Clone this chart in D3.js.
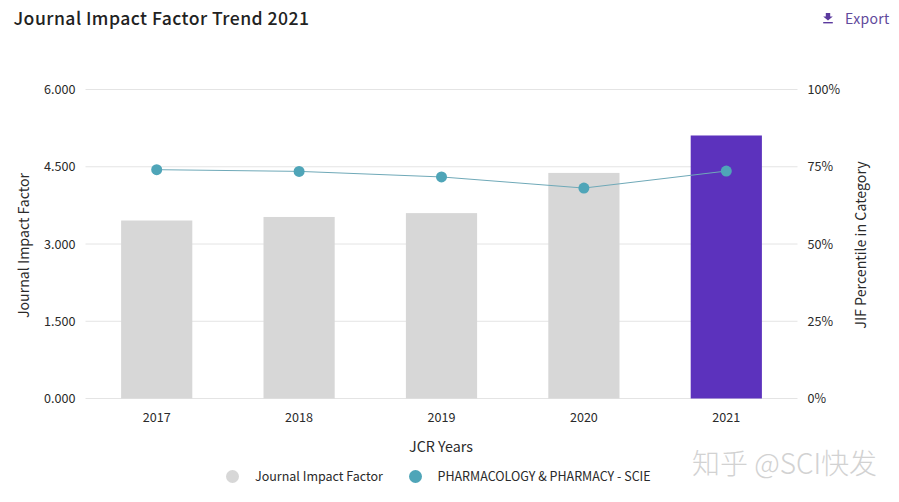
<!DOCTYPE html>
<html>
<head>
<meta charset="utf-8">
<script src="https://cdnjs.cloudflare.com/ajax/libs/d3/7.8.5/d3.min.js"></script>
<style>
html,body{margin:0;padding:0;background:#fff;}
svg{display:block;}
text{font-family:"Noto Sans CJK SC","Noto Sans",sans-serif;}
</style>
</head>
<body>
<svg id="c" width="899" height="502"></svg>
<script>
const years = ["2017","2018","2019","2020","2021"];
const jif = [3.456, 3.525, 3.600, 4.380, 5.107];
const percentile = [74.05, 73.5, 71.7, 68.1, 73.6];
const leftTicks = [0, 1.5, 3, 4.5, 6];
const rightTicks = [0, 25, 50, 75, 100];
const titleText = "Journal Impact Factor Trend 2021";
const legendLabels = ["Journal Impact Factor", "PHARMACOLOGY & PHARMACY - SCIE"];

const svg = d3.select("#c");
const x = d3.scaleBand().domain(years).range([85.5, 797.5]).paddingInner(0.5).paddingOuter(0.25);
const y = d3.scaleLinear().domain([0, 6]).range([398.5, 89.5]);
const yr = d3.scaleLinear().domain([0, 100]).range([398.5, 89.5]);
const cx = d => x(d) + x.bandwidth() / 2;
const ink = "#2a2a2a";

svg.append("text").attr("x", 13.5).attr("y", 24.5).attr("font-size", 17.6).attr("font-weight", 500)
  .attr("letter-spacing", 0.45).attr("fill", "#222").text(titleText);

// Export
const ex = svg.append("g").attr("transform", "translate(828,18)").attr("fill", "#5b3a9e");
ex.append("path").attr("d", "M-2.2,-5 H2.2 V-1.6 H4.8 L0,2.6 L-4.8,-1.6 H-2.2 Z");
ex.append("rect").attr("x", -4.8).attr("y", 4).attr("width", 9.6).attr("height", 1.4);
svg.append("text").attr("x", 889.5).attr("y", 24).attr("text-anchor", "end").attr("font-size", 14)
  .attr("letter-spacing", 0.3).attr("fill", "#5f4a9c").text("Export");

// Grid
svg.append("g").selectAll("line").data(leftTicks).join("line")
  .attr("x1", 85.5).attr("x2", 797.5)
  .attr("y1", d => y(d)).attr("y2", d => y(d))
  .attr("stroke", "#e4e4e4").attr("stroke-width", 1);

// Bars
svg.append("g").selectAll("rect").data(years).join("rect")
  .attr("x", d => x(d)).attr("width", x.bandwidth())
  .attr("y", (d, i) => y(jif[i])).attr("height", (d, i) => y(0) - y(jif[i]))
  .attr("fill", (d, i) => i === years.length - 1 ? "#5c32bd" : "#d7d7d7");

// Line
const line = d3.line().x((d, i) => cx(years[i])).y(d => yr(d));
svg.append("path").attr("d", line(percentile)).attr("fill", "none")
  .attr("stroke", "#6fa9b8").attr("stroke-width", 1);
svg.append("g").selectAll("circle").data(percentile).join("circle")
  .attr("cx", (d, i) => cx(years[i])).attr("cy", d => yr(d)).attr("r", 5.5).attr("fill", "#4fa5b8");

// Left axis
svg.append("g").selectAll("text").data(leftTicks).join("text")
  .attr("x", 75.5).attr("y", d => y(d) + 4.6).attr("text-anchor", "end")
  .attr("font-size", 12.6).attr("fill", ink).text(d => d3.format(".3f")(d));

// Right axis
svg.append("g").selectAll("text").data(rightTicks).join("text")
  .attr("x", 807.5).attr("y", d => yr(d) + 4.6)
  .attr("font-size", 12.6).attr("fill", ink).text(d => d + "%");

// X axis
svg.append("g").selectAll("text").data(years).join("text")
  .attr("x", d => cx(d)).attr("y", 422).attr("text-anchor", "middle")
  .attr("font-size", 12.6).attr("fill", ink).text(d => d);

svg.append("text").attr("x", 441).attr("y", 452).attr("text-anchor", "middle")
  .attr("font-size", 14.3).attr("fill", ink).text("JCR Years");
svg.append("text").attr("transform", "translate(28.5,245.5) rotate(-90)").attr("text-anchor", "middle")
  .attr("font-size", 14.2).attr("fill", ink).text("Journal Impact Factor");
svg.append("text").attr("transform", "translate(865.5,245) rotate(-90)").attr("text-anchor", "middle")
  .attr("font-size", 14.2).attr("fill", ink).text("JIF Percentile in Category");

// Legend
const legendDot = [232.5, 415.5], legendText = [255, 437.5], legendCol = ["#d7d7d7", "#4fa5b8"];
legendLabels.forEach((t, i) => {
  svg.append("circle").attr("cx", legendDot[i]).attr("cy", 476.5).attr("r", 6.5).attr("fill", legendCol[i]);
  svg.append("text").attr("x", legendText[i]).attr("y", 480.7).attr("font-size", 12.5).attr("fill", ink).text(t);
});

// Watermark
svg.append("text").attr("x", 692).attr("y", 474).attr("font-size", 28).attr("fill", "#d2d2d2")
  .attr("font-weight", 300).text("知乎 @SCI快发");
</script>
</body>
</html>
